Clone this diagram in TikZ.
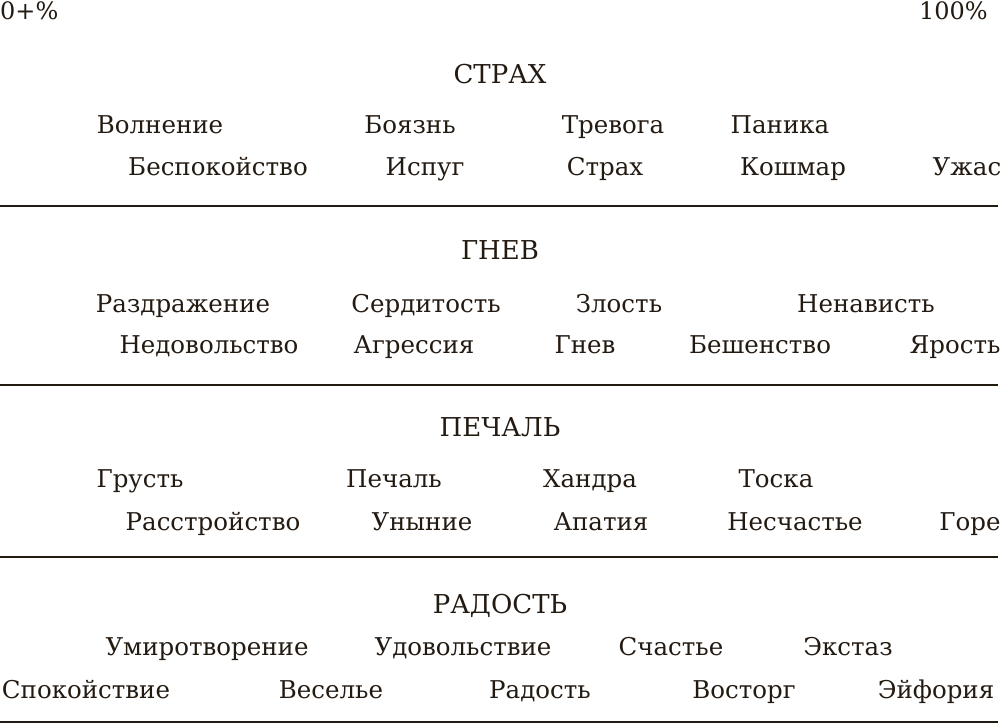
\documentclass[tikz,border=0pt]{standalone}
\usepackage{fontspec}
\setmainfont{DejaVu Serif}
\definecolor{ink}{HTML}{231A12}
\tikzset{
  word/.style={anchor=base, inner sep=0pt, text=ink, font=\fontsize{24.5}{29}\selectfont},
  title/.style={anchor=base, inner sep=0pt, text=ink, font=\fontsize{26}{31}\selectfont},
  pct/.style={inner sep=0pt, text=ink, font=\fontsize{24}{28}\selectfont},
  rule/.style={draw=ink, line width=1.6pt},
}
\begin{document}
\begin{tikzpicture}[x=1pt,y=-1pt]
\useasboundingbox (0,0) rectangle (1000,726);
\node[pct, anchor=base west] (p0) at (0,19) {0+\%};
\node[pct, anchor=base east] (p100) at (988,19) {100\%};
% STRAKH
\node[title] (t1) at (500,83) {СТРАХ};
\node[word] (a1) at (160,133) {Волнение};
\node[word] (a2) at (410,133) {Боязнь};
\node[word] (a3) at (613,133) {Тревога};
\node[word] (a4) at (780,133) {Паника};
\node[word] (a5) at (218,175) {Беспокойство};
\node[word] (a6) at (425,175) {Испуг};
\node[word] (a7) at (605,175) {Страх};
\node[word] (a8) at (793,175) {Кошмар};
\node[word] (a9) at (967,175) {Ужас};
\coordinate (l1a) at (0,206); \coordinate (l1b) at (998,206);
\draw[rule] (l1a) -- (l1b);
% GNEV
\node[title] (t2) at (500,259) {ГНЕВ};
\node[word] (b1) at (183,312) {Раздражение};
\node[word] (b2) at (426,312) {Сердитость};
\node[word] (b3) at (619,312) {Злость};
\node[word] (b4) at (866,312) {Ненависть};
\node[word] (b5) at (209,353) {Недовольство};
\node[word] (b6) at (414,353) {Агрессия};
\node[word] (b7) at (585,353) {Гнев};
\node[word] (b8) at (760,353) {Бешенство};
\node[word] (b9) at (955,353) {Ярость};
\coordinate (l2a) at (0,385); \coordinate (l2b) at (998,385);
\draw[rule] (l2a) -- (l2b);
% PECHAL
\node[title] (t3) at (500,436) {ПЕЧАЛЬ};
\node[word] (c1) at (140,487) {Грусть};
\node[word] (c2) at (394,487) {Печаль};
\node[word] (c3) at (590,487) {Хандра};
\node[word] (c4) at (776,487) {Тоска};
\node[word] (c5) at (213,530) {Расстройство};
\node[word] (c6) at (422,530) {Уныние};
\node[word] (c7) at (601,530) {Апатия};
\node[word] (c8) at (795,530) {Несчастье};
\node[word] (c9) at (970,530) {Горе};
\coordinate (l3a) at (0,557); \coordinate (l3b) at (998,557);
\draw[rule] (l3a) -- (l3b);
% RADOST
\node[title] (t4) at (500,613) {РАДОСТЬ};
\node[word] (d1) at (207,655) {Умиротворение};
\node[word] (d2) at (463,655) {Удовольствие};
\node[word] (d3) at (671,655) {Счастье};
\node[word] (d4) at (848,655) {Экстаз};
\node[word] (d5) at (86,698) {Спокойствие};
\node[word] (d6) at (331,698) {Веселье};
\node[word] (d7) at (540,698) {Радость};
\node[word] (d8) at (744,698) {Восторг};
\node[word] (d9) at (936,698) {Эйфория};
\coordinate (l4a) at (0,722); \coordinate (l4b) at (998,722);
\draw[rule] (l4a) -- (l4b);
\end{tikzpicture}
\end{document}
